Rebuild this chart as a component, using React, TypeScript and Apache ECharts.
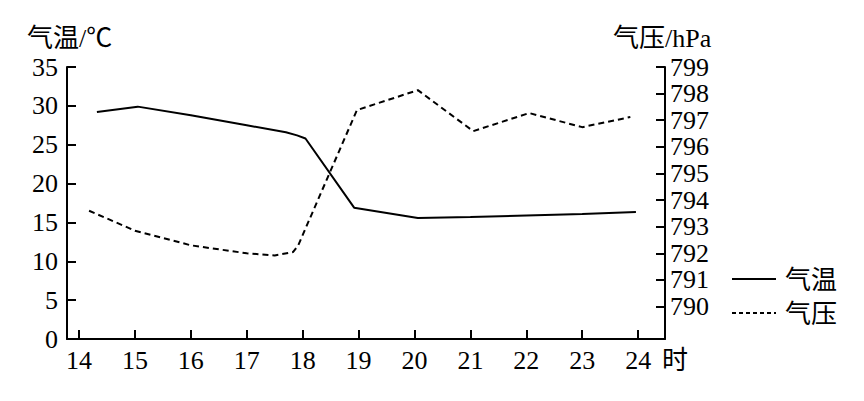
import React, { useEffect, useRef } from "react";
import * as echarts from "echarts";

const hourTicks = [14, 15, 16, 17, 18, 19, 20, 21, 22, 23, 24];
const pressureTicks = [790, 791, 792, 793, 794, 795, 796, 797, 798, 799];

const tempHours = [14.32, 15.05, 16, 17, 17.7, 17.9, 18.05, 18.92, 20.06, 21, 22, 23, 23.96];
const tempValues = [29.2, 29.9, 28.8, 27.5, 26.6, 26.2, 25.8, 16.9, 15.57, 15.7, 15.9, 16.1, 16.35];

const presHours = [14.18, 15, 16, 17, 17.5, 17.83, 17.92, 18.97, 20.06, 21.05, 22.05, 23.0, 23.86];
const presValues = [793.6, 792.85, 792.3, 792.0, 791.92, 792.05, 792.3, 797.38, 798.13, 796.59, 797.27, 796.74, 797.12];

const legendNames = ["气温", "气压"];

const FONT = "Liberation Serif";

export default function App() {
  const ref = useRef<HTMLDivElement>(null);
  useEffect(() => {
    if (!ref.current) return;
    const chart = echarts.init(ref.current, null, { renderer: "svg" });
    const textStyle = { fontFamily: FONT, fontSize: 26, color: "#000" };
    const txt = (text: string, left: number, top: number) => ({
      type: "text",
      left,
      top,
      style: { text, fontFamily: FONT, fontSize: 26, fill: "#000" },
    });
    chart.setOption({
      animation: false,
      textStyle: { fontFamily: FONT },
      grid: { left: 67, right: 199, top: 67, bottom: 62, containLabel: false },
      xAxis: {
        type: "value",
        min: 13.785,
        max: 24.48,
        axisLine: { show: true, lineStyle: { color: "#000", width: 2 } },
        axisTick: { show: true, inside: true, length: 9, customValues: hourTicks, lineStyle: { color: "#000", width: 2 } },
        axisLabel: { show: true, customValues: hourTicks, margin: 8, hideOverlap: false, ...textStyle },
        splitLine: { show: false },
      },
      yAxis: [
        {
          type: "value",
          min: 0,
          max: 35,
          interval: 5,
          position: "left",
          axisLine: { show: true, lineStyle: { color: "#000", width: 2 } },
          axisTick: { show: true, inside: true, length: 9, lineStyle: { color: "#000", width: 2 } },
          axisLabel: { margin: 9, ...textStyle },
          splitLine: { show: false },
        },
        {
          type: "value",
          min: 788.78,
          max: 799,
          position: "right",
          axisLine: { show: true, lineStyle: { color: "#000", width: 2 } },
          axisTick: { show: true, inside: true, length: 9, customValues: pressureTicks, lineStyle: { color: "#000", width: 2 } },
          axisLabel: { margin: 5, customValues: pressureTicks, hideOverlap: false, ...textStyle },
          splitLine: { show: false },
        },
      ],
      graphic: [
        txt("气温/℃", 27, 25),
        txt("气压/hPa", 613, 25),
        txt("时", 662, 347),
        { type: "line", shape: { x1: 732, y1: 279, x2: 776, y2: 279 }, style: { stroke: "#000", lineWidth: 2 } },
        { type: "line", shape: { x1: 732, y1: 313, x2: 776, y2: 313 }, style: { stroke: "#000", lineWidth: 2, lineDash: [4, 3] } },
        txt(legendNames[0], 785, 267),
        txt(legendNames[1], 785, 301),
      ],
      series: [
        {
          name: legendNames[0],
          type: "line",
          yAxisIndex: 0,
          symbol: "none",
          lineStyle: { color: "#000", width: 2, type: "solid" },
          data: tempHours.map((h, i) => [h, tempValues[i]]),
        },
        {
          name: legendNames[1],
          type: "line",
          yAxisIndex: 1,
          symbol: "none",
          lineStyle: { color: "#000", width: 2, type: [6, 4] },
          data: presHours.map((h, i) => [h, presValues[i]]),
        },
      ],
    });
    return () => chart.dispose();
  }, []);
  return (
    <>
      <style>{`.chart-root svg text { font-family: "Liberation Serif", "Noto Sans CJK SC", serif !important; }`}</style>
      <div className="chart-root" ref={ref} style={{ width: 864, height: 401, position: "absolute", left: 0, top: 0 }} />
    </>
  );
}
